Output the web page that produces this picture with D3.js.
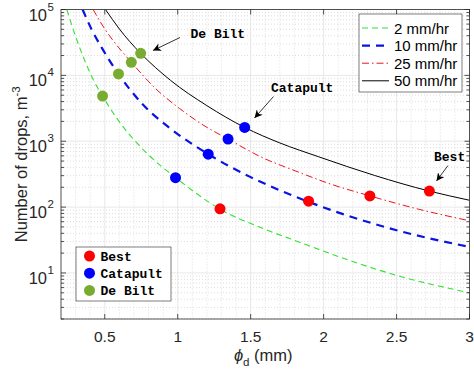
<!DOCTYPE html>
<html>
<head>
<meta charset="utf-8">
<script src="https://cdn.jsdelivr.net/npm/d3@7"></script>
<style>
  body { margin: 0; background: #fff; }
  svg { display: block; }
</style>
</head>
<body>
<div id="chart"></div>
<script>
// curves (phi in mm, drops per m^3)
var phi2 = [0.24, 0.30, 0.36, 0.42, 0.485, 0.6, 0.8, 0.988, 1.291, 1.6, 1.829, 2.2, 2.5, 3.0];
var n2 = [100000, 39000, 17400, 8700, 4840, 1970, 620, 278, 93, 46, 29.6, 14.9, 9.2, 5.0];

var phi10 = [0.348, 0.41, 0.48, 0.594, 0.75, 0.95, 1.209, 1.5, 1.81, 2.15, 2.5, 3.0];
var n10 = [100000, 49700, 26100, 10500, 3830, 1560, 637, 285, 143, 76, 44.6, 24.8];

var phi25 = [0.42, 0.5, 0.58, 0.682, 0.85, 1.012, 1.18, 1.345, 1.57, 1.81, 2.05, 2.317, 2.65, 3.0];
var n25 = [100000, 50600, 29100, 15800, 6240, 3150, 1730, 1080, 578, 352, 223, 148, 93, 62];

var phi50 = [0.505, 0.6, 0.67, 0.746, 0.95, 1.2, 1.459, 1.7, 1.967, 2.35, 2.725, 3.0];
var n50 = [100000, 50700, 32800, 21600, 8430, 3470, 1620, 942, 580, 302, 175, 127];

var seriesNames = ["2 mm/hr", "10 mm/hr", "25 mm/hr", "50 mm/hr"];

// measured points
var bestPhi = [1.29, 1.897, 2.317, 2.725];
var bestN = [94, 123, 148, 175];
var catPhi = [0.985, 1.209, 1.345, 1.459];
var catN = [280, 637, 1077, 1620];
var bilPhi = [0.485, 0.594, 0.682, 0.746];
var bilN = [4840, 10500, 15800, 21600];
var pointNames = ["Best", "Catapult", "De Bilt"];

var xTicks = [0.5, 1, 1.5, 2, 2.5, 3];
var xTickLabels = ["0.5", "1", "1.5", "2", "2.5", "3"];
var yTicks = [10, 100, 1000, 10000, 100000];
var yTickExp = ["1", "2", "3", "4", "5"];

var width = 474, height = 373;
var pL = 61, pR = 469.5, pT = 9.5, pB = 319;

var svg = d3.select("#chart").append("svg")
  .attr("width", width)
  .attr("height", height)
  .style("font-family", "'Liberation Sans', Arial, sans-serif");

var x = d3.scaleLinear().domain([0.2, 3]).range([pL, pR]);
var y = d3.scaleLog().domain([2, 100000]).range([pB, pT]);

var defs = svg.append("defs");
defs.append("clipPath").attr("id", "plotclip")
  .append("rect")
  .attr("x", pL).attr("y", pT)
  .attr("width", pR - pL).attr("height", pB - pT);

// grid: minor (dotted) then major
var grid = svg.append("g");
var xMinor = d3.range(3, 30).map(function(d) { return d / 10; })
  .filter(function(d) { return Math.abs(d * 2 - Math.round(d * 2)) > 1e-6; });
var yMinor = [];
[1, 10, 100, 1000, 10000].forEach(function(dec) {
  for (var k = 2; k <= 9; k++) { if (dec * k >= 2) yMinor.push(dec * k); }
});

grid.selectAll(".xmin").data(xMinor).enter().append("line")
  .attr("x1", function(d) { return x(d); }).attr("x2", function(d) { return x(d); })
  .attr("y1", pT).attr("y2", pB)
  .attr("stroke", "#c8c8c8").attr("stroke-width", 0.6).attr("stroke-dasharray", "1,2");
grid.selectAll(".ymin").data(yMinor).enter().append("line")
  .attr("x1", pL).attr("x2", pR)
  .attr("y1", function(d) { return y(d); }).attr("y2", function(d) { return y(d); })
  .attr("stroke", "#c8c8c8").attr("stroke-width", 0.6).attr("stroke-dasharray", "1,2");
grid.selectAll(".xmaj").data(xTicks.slice(0, 5)).enter().append("line")
  .attr("x1", function(d) { return x(d); }).attr("x2", function(d) { return x(d); })
  .attr("y1", pT).attr("y2", pB)
  .attr("stroke", "#e2e2e2").attr("stroke-width", 0.8);
grid.selectAll(".ymaj").data(yTicks.slice(0, 4)).enter().append("line")
  .attr("x1", pL).attr("x2", pR)
  .attr("y1", function(d) { return y(d); }).attr("y2", function(d) { return y(d); })
  .attr("stroke", "#e2e2e2").attr("stroke-width", 0.8);

// rain rate curves
var styles = [
  { color: "#33e033", width: 1.1, dash: "6,4" },
  { color: "#0a14e0", width: 2.2, dash: "8,6" },
  { color: "#e8141e", width: 1.0, dash: "7,3,1.5,3" },
  { color: "#000000", width: 1.0, dash: null }
];
var curves = [[phi2, n2], [phi10, n10], [phi25, n25], [phi50, n50]];

var line = d3.line()
  .x(function(d) { return x(d[0]); })
  .y(function(d) { return y(d[1]); })
  .curve(d3.curveMonotoneX);

var plot = svg.append("g").attr("clip-path", "url(#plotclip)");
curves.forEach(function(c, i) {
  var pts = c[0].map(function(p, j) { return [p, c[1][j]]; });
  plot.append("path")
    .attr("d", line(pts))
    .attr("fill", "none")
    .attr("stroke", styles[i].color)
    .attr("stroke-width", styles[i].width)
    .attr("stroke-dasharray", styles[i].dash);
});

// measured points
var dotColors = ["#ff0000", "#0000ff", "#77ac30"];
var dotSets = [[bestPhi, bestN], [catPhi, catN], [bilPhi, bilN]];
dotSets.forEach(function(s, i) {
  plot.selectAll(".dot" + i).data(s[0]).enter().append("circle")
    .attr("cx", function(d) { return x(d); })
    .attr("cy", function(d, j) { return y(s[1][j]); })
    .attr("r", 5.5)
    .attr("fill", dotColors[i]);
});

// axes box + ticks (inward, all sides)
var axisColor = "#262626";
var ticks = svg.append("g").attr("stroke", axisColor).attr("stroke-width", 0.8);
xTicks.forEach(function(t) {
  ticks.append("line").attr("x1", x(t)).attr("x2", x(t)).attr("y1", pB).attr("y2", pB - 5);
  ticks.append("line").attr("x1", x(t)).attr("x2", x(t)).attr("y1", pT).attr("y2", pT + 5);
});
yTicks.forEach(function(t) {
  ticks.append("line").attr("x1", pL).attr("x2", pL + 5).attr("y1", y(t)).attr("y2", y(t));
  ticks.append("line").attr("x1", pR).attr("x2", pR - 5).attr("y1", y(t)).attr("y2", y(t));
});
yMinor.forEach(function(t) {
  ticks.append("line").attr("x1", pL).attr("x2", pL + 3).attr("y1", y(t)).attr("y2", y(t));
  ticks.append("line").attr("x1", pR).attr("x2", pR - 3).attr("y1", y(t)).attr("y2", y(t));
});
svg.append("rect")
  .attr("x", pL).attr("y", pT)
  .attr("width", pR - pL).attr("height", pB - pT)
  .attr("fill", "none").attr("stroke", axisColor).attr("stroke-width", 0.8);

// tick labels
svg.selectAll(".xl").data(xTicks).enter().append("text")
  .attr("x", function(d) { return x(d); })
  .attr("y", pB + 23)
  .attr("text-anchor", "middle")
  .attr("font-size", 15.5)
  .attr("fill", axisColor)
  .text(function(d, i) { return xTickLabels[i]; });

yTicks.forEach(function(t, i) {
  svg.append("text")
    .attr("x", 47).attr("y", y(t) + 11)
    .attr("text-anchor", "end")
    .attr("font-size", 16.5).attr("fill", axisColor)
    .text("10");
  svg.append("text")
    .attr("x", 47.5).attr("y", y(t) + 1)
    .attr("font-size", 11.5).attr("fill", axisColor)
    .text(yTickExp[i]);
});

// axis titles
var ylab = svg.append("text")
  .attr("transform", "translate(27," + ((pT + pB) / 2) + ") rotate(-90)")
  .attr("text-anchor", "middle")
  .attr("font-size", 16.5)
  .attr("fill", axisColor);
ylab.append("tspan").text("Number of drops, m");
ylab.append("tspan").attr("dy", -7).attr("font-size", 11.5).text("-3");

var xlab = svg.append("text")
  .attr("x", (pL + pR) / 2 - 2)
  .attr("y", 361)
  .attr("text-anchor", "middle")
  .attr("font-size", 16.5)
  .attr("fill", axisColor);
xlab.append("tspan").attr("font-style", "italic").text("\u03d5");
xlab.append("tspan").attr("dy", 5).attr("font-size", 11.5).text("d");
xlab.append("tspan").attr("dy", -5).text(" (mm)");

// rain rate legend
var lg = svg.append("g");
lg.append("rect")
  .attr("x", 359).attr("y", 14).attr("width", 103).attr("height", 78)
  .attr("fill", "#fff").attr("stroke", axisColor).attr("stroke-width", 0.6);
seriesNames.forEach(function(name, i) {
  var yy = 28 + i * 17.6;
  lg.append("line")
    .attr("x1", 362).attr("x2", 389).attr("y1", yy).attr("y2", yy)
    .attr("stroke", styles[i].color)
    .attr("stroke-width", styles[i].width)
    .attr("stroke-dasharray", styles[i].dash);
  lg.append("text")
    .attr("x", 394).attr("y", yy + 5.5)
    .attr("font-size", 15).attr("fill", "#000")
    .text(name);
});

// measurement legend
var mono = "'Liberation Mono', 'Courier New', monospace";
var pg = svg.append("g");
pg.append("rect")
  .attr("x", 76).attr("y", 247).attr("width", 95).attr("height", 54)
  .attr("fill", "#fff").attr("stroke", axisColor).attr("stroke-width", 0.6);
pointNames.forEach(function(name, i) {
  var yy = 256 + i * 17.2;
  pg.append("circle").attr("cx", 89.5).attr("cy", yy).attr("r", 5.5).attr("fill", dotColors[i]);
  pg.append("text")
    .attr("x", 100.5).attr("y", yy + 4.5)
    .attr("font-family", mono).attr("font-weight", "bold")
    .attr("font-size", 13).attr("fill", "#000")
    .text(name);
});

// annotations with arrows
defs.append("marker")
  .attr("id", "head")
  .attr("viewBox", "0 0 10 10")
  .attr("refX", 10).attr("refY", 5)
  .attr("markerWidth", 8).attr("markerHeight", 8)
  .attr("markerUnits", "userSpaceOnUse")
  .attr("orient", "auto")
  .append("path")
  .attr("d", "M0,0 L10,5 L0,10 L3,5 Z")
  .attr("fill", "#000");

var notes = [
  { text: "De Bilt", tx: 190.5, ty: 38, x1: 180, y1: 37.5, x2: 153, y2: 50.5 },
  { text: "Catapult", tx: 271, ty: 92, x1: 273.5, y1: 96.5, x2: 254.5, y2: 118 },
  { text: "Best", tx: 434, ty: 161, x1: 448, y1: 165.5, x2: 436.5, y2: 181 }
];
notes.forEach(function(n) {
  svg.append("line")
    .attr("x1", n.x1).attr("y1", n.y1).attr("x2", n.x2).attr("y2", n.y2)
    .attr("stroke", "#000").attr("stroke-width", 0.8)
    .attr("marker-end", "url(#head)");
  svg.append("text")
    .attr("x", n.tx).attr("y", n.ty)
    .attr("font-family", mono).attr("font-weight", "bold")
    .attr("font-size", 13).attr("fill", "#000")
    .text(n.text);
});
</script>
</body>
</html>
